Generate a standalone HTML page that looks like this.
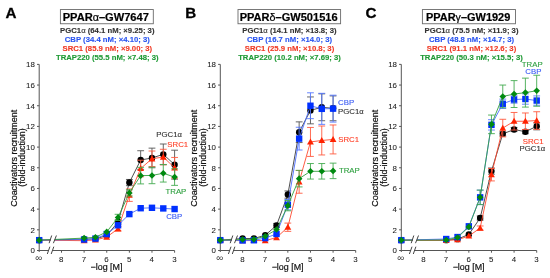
<!DOCTYPE html>
<html><head><meta charset="utf-8"><style>html,body{margin:0;padding:0;background:#fff;}svg{display:block;will-change:transform;}</style></head>
<body>
<svg width="550" height="278" viewBox="0 0 550 278" font-family='"Liberation Sans", sans-serif'>
<rect width="550" height="278" fill="#fff"/>
<text x="5.40" y="17.80" font-size="15.2" font-weight="bold" fill="#000" stroke="#000" stroke-width="0.3">A</text>
<rect x="60.40" y="9.55" width="92.90" height="14.2" fill="#fff" stroke="#6a6a6a" stroke-width="0.9"/>
<text x="62.70" y="20.9" font-size="10.8" font-weight="bold" textLength="86.20" lengthAdjust="spacingAndGlyphs" fill="#000" stroke="#000" stroke-width="0.2">PPAR<tspan font-weight="normal" font-size="10.5">α</tspan>–GW7647</text>
<text x="107.30" y="33.30" font-size="7.73" font-weight="bold" text-anchor="middle" fill="#333333" stroke="#333333" stroke-width="0.12">PGC1<tspan font-weight="normal">α</tspan> (64.1 nM; ×9.25; 3)</text>
<text x="107.30" y="42.05" font-size="7.73" font-weight="bold" text-anchor="middle" fill="#2a55f0" stroke="#2a55f0" stroke-width="0.12">CBP (34.4 nM; ×4.10; 3)</text>
<text x="107.30" y="50.80" font-size="7.73" font-weight="bold" text-anchor="middle" fill="#f03a25" stroke="#f03a25" stroke-width="0.12">SRC1 (85.9 nM; ×9.00; 3)</text>
<text x="107.30" y="59.55" font-size="7.73" font-weight="bold" text-anchor="middle" fill="#1f9a35" stroke="#1f9a35" stroke-width="0.12">TRAP220 (55.5 nM; ×7.48; 3)</text>
<line x1="39.20" y1="64.38" x2="39.20" y2="252.00" stroke="#555" stroke-width="1"/>
<line x1="37.00" y1="250.50" x2="39.20" y2="250.50" stroke="#555" stroke-width="1"/>
<text x="34.90" y="253.30" font-size="7.9" text-anchor="end" fill="#1a1a1a" stroke="#1a1a1a" stroke-width="0.06">0</text>
<line x1="37.00" y1="229.82" x2="39.20" y2="229.82" stroke="#555" stroke-width="1"/>
<text x="34.90" y="232.62" font-size="7.9" text-anchor="end" fill="#1a1a1a" stroke="#1a1a1a" stroke-width="0.06">2</text>
<line x1="37.00" y1="209.14" x2="39.20" y2="209.14" stroke="#555" stroke-width="1"/>
<text x="34.90" y="211.94" font-size="7.9" text-anchor="end" fill="#1a1a1a" stroke="#1a1a1a" stroke-width="0.06">4</text>
<line x1="37.00" y1="188.46" x2="39.20" y2="188.46" stroke="#555" stroke-width="1"/>
<text x="34.90" y="191.26" font-size="7.9" text-anchor="end" fill="#1a1a1a" stroke="#1a1a1a" stroke-width="0.06">6</text>
<line x1="37.00" y1="167.78" x2="39.20" y2="167.78" stroke="#555" stroke-width="1"/>
<text x="34.90" y="170.58" font-size="7.9" text-anchor="end" fill="#1a1a1a" stroke="#1a1a1a" stroke-width="0.06">8</text>
<line x1="37.00" y1="147.10" x2="39.20" y2="147.10" stroke="#555" stroke-width="1"/>
<text x="34.90" y="149.90" font-size="7.9" text-anchor="end" fill="#1a1a1a" stroke="#1a1a1a" stroke-width="0.06">10</text>
<line x1="37.00" y1="126.42" x2="39.20" y2="126.42" stroke="#555" stroke-width="1"/>
<text x="34.90" y="129.22" font-size="7.9" text-anchor="end" fill="#1a1a1a" stroke="#1a1a1a" stroke-width="0.06">12</text>
<line x1="37.00" y1="105.74" x2="39.20" y2="105.74" stroke="#555" stroke-width="1"/>
<text x="34.90" y="108.54" font-size="7.9" text-anchor="end" fill="#1a1a1a" stroke="#1a1a1a" stroke-width="0.06">14</text>
<line x1="37.00" y1="85.06" x2="39.20" y2="85.06" stroke="#555" stroke-width="1"/>
<text x="34.90" y="87.86" font-size="7.9" text-anchor="end" fill="#1a1a1a" stroke="#1a1a1a" stroke-width="0.06">16</text>
<line x1="37.00" y1="64.38" x2="39.20" y2="64.38" stroke="#555" stroke-width="1"/>
<text x="34.90" y="67.18" font-size="7.9" text-anchor="end" fill="#1a1a1a" stroke="#1a1a1a" stroke-width="0.06">18</text>
<line x1="39.20" y1="250.50" x2="48.60" y2="250.50" stroke="#555" stroke-width="1"/>
<line x1="52.50" y1="250.50" x2="174.60" y2="250.50" stroke="#555" stroke-width="1"/>
<line x1="47.30" y1="254" x2="49.90" y2="246.7" stroke="#444" stroke-width="1"/>
<line x1="51.20" y1="254" x2="53.80" y2="246.7" stroke="#444" stroke-width="1"/>
<line x1="61.50" y1="250.50" x2="61.50" y2="252.70" stroke="#555" stroke-width="1"/>
<text x="61.30" y="261.7" font-size="7.9" text-anchor="middle" fill="#1a1a1a" stroke="#1a1a1a" stroke-width="0.06">8</text>
<line x1="84.12" y1="250.50" x2="84.12" y2="252.70" stroke="#555" stroke-width="1"/>
<text x="83.92" y="261.7" font-size="7.9" text-anchor="middle" fill="#1a1a1a" stroke="#1a1a1a" stroke-width="0.06">7</text>
<line x1="106.74" y1="250.50" x2="106.74" y2="252.70" stroke="#555" stroke-width="1"/>
<text x="106.54" y="261.7" font-size="7.9" text-anchor="middle" fill="#1a1a1a" stroke="#1a1a1a" stroke-width="0.06">6</text>
<line x1="129.36" y1="250.50" x2="129.36" y2="252.70" stroke="#555" stroke-width="1"/>
<text x="129.16" y="261.7" font-size="7.9" text-anchor="middle" fill="#1a1a1a" stroke="#1a1a1a" stroke-width="0.06">5</text>
<line x1="151.98" y1="250.50" x2="151.98" y2="252.70" stroke="#555" stroke-width="1"/>
<text x="151.78" y="261.7" font-size="7.9" text-anchor="middle" fill="#1a1a1a" stroke="#1a1a1a" stroke-width="0.06">4</text>
<line x1="174.60" y1="250.50" x2="174.60" y2="252.70" stroke="#555" stroke-width="1"/>
<text x="174.40" y="261.7" font-size="7.9" text-anchor="middle" fill="#1a1a1a" stroke="#1a1a1a" stroke-width="0.06">3</text>
<text x="38.60" y="260.9" font-size="9.6" text-anchor="middle" fill="#333">∞</text>
<text x="106.50" y="270.4" font-size="8.9" text-anchor="middle" fill="#111" stroke="#111" stroke-width="0.2">−log [M]</text>
<text transform="translate(17.30,158.3) rotate(-90)" font-size="9.2" text-anchor="middle" textLength="97" lengthAdjust="spacingAndGlyphs" fill="#111" stroke="#111" stroke-width="0.22">Coactivators recruitment</text>
<text transform="translate(24.90,157.5) rotate(-90)" font-size="9.2" text-anchor="middle" textLength="58.4" lengthAdjust="spacingAndGlyphs" fill="#111" stroke="#111" stroke-width="0.22">(fold-induction)</text>
<path d="M118.05 220.00V224.13M114.65 220.00H121.45M114.65 224.13H121.45" stroke="#555555" stroke-width="0.9" fill="none"/>
<path d="M129.36 179.46V185.67M125.96 179.46H132.76M125.96 185.67H132.76" stroke="#555555" stroke-width="0.9" fill="none"/>
<path d="M140.67 150.72V169.33M137.27 150.72H144.07M137.27 169.33H144.07" stroke="#555555" stroke-width="0.9" fill="none"/>
<path d="M151.98 148.13V167.78M148.58 148.13H155.38M148.58 167.78H155.38" stroke="#555555" stroke-width="0.9" fill="none"/>
<path d="M163.29 144.00V164.68M159.89 144.00H166.69M159.89 164.68H166.69" stroke="#555555" stroke-width="0.9" fill="none"/>
<path d="M174.60 150.20V179.15M171.20 150.20H178.00M171.20 179.15H178.00" stroke="#555555" stroke-width="0.9" fill="none"/>
<path d="M39.20 240.16L50.60 239.90" stroke="#3a3a3a" stroke-width="0.9" fill="none"/>
<path d="M54.80 239.80L84.12 239.13L95.43 238.92L106.74 235.51L118.05 222.06L129.36 182.57L140.67 160.03L151.98 157.96L163.29 154.34L174.60 164.68" stroke="#3a3a3a" stroke-width="0.9" fill="none" stroke-linejoin="round"/>
<circle cx="39.20" cy="240.16" r="3.2" fill="#000000"/>
<circle cx="84.12" cy="239.13" r="3.2" fill="#000000"/>
<circle cx="95.43" cy="238.92" r="3.2" fill="#000000"/>
<circle cx="106.74" cy="235.51" r="3.2" fill="#000000"/>
<circle cx="118.05" cy="222.06" r="3.2" fill="#000000"/>
<circle cx="129.36" cy="182.57" r="3.2" fill="#000000"/>
<circle cx="140.67" cy="160.03" r="3.2" fill="#000000"/>
<circle cx="151.98" cy="157.96" r="3.2" fill="#000000"/>
<circle cx="163.29" cy="154.34" r="3.2" fill="#000000"/>
<circle cx="174.60" cy="164.68" r="3.2" fill="#000000"/>
<path d="M118.05 226.72V230.85M114.65 226.72H121.45M114.65 230.85H121.45" stroke="#ff5a40" stroke-width="0.9" fill="none"/>
<path d="M129.36 188.98V201.38M125.96 188.98H132.76M125.96 201.38H132.76" stroke="#ff5a40" stroke-width="0.9" fill="none"/>
<path d="M140.67 160.23V176.78M137.27 160.23H144.07M137.27 176.78H144.07" stroke="#ff5a40" stroke-width="0.9" fill="none"/>
<path d="M151.98 151.03V166.54M148.58 151.03H155.38M148.58 166.54H155.38" stroke="#ff5a40" stroke-width="0.9" fill="none"/>
<path d="M163.29 149.27V164.78M159.89 149.27H166.69M159.89 164.78H166.69" stroke="#ff5a40" stroke-width="0.9" fill="none"/>
<path d="M174.60 157.44V178.12M171.20 157.44H178.00M171.20 178.12H178.00" stroke="#ff5a40" stroke-width="0.9" fill="none"/>
<path d="M39.20 240.16L50.60 240.29" stroke="#ff4a30" stroke-width="0.9" fill="none"/>
<path d="M54.80 240.34L84.12 240.68L95.43 239.95L106.74 237.06L118.05 228.79L129.36 195.18L140.67 168.50L151.98 158.78L163.29 157.03L174.60 167.78" stroke="#ff4a30" stroke-width="0.9" fill="none" stroke-linejoin="round"/>
<path d="M39.20 236.76L42.60 242.76L35.80 242.76Z" fill="#ff2200"/>
<path d="M84.12 237.28L87.52 243.28L80.72 243.28Z" fill="#ff2200"/>
<path d="M95.43 236.55L98.83 242.55L92.03 242.55Z" fill="#ff2200"/>
<path d="M106.74 233.66L110.14 239.66L103.34 239.66Z" fill="#ff2200"/>
<path d="M118.05 225.39L121.45 231.39L114.65 231.39Z" fill="#ff2200"/>
<path d="M129.36 191.78L132.76 197.78L125.96 197.78Z" fill="#ff2200"/>
<path d="M140.67 165.10L144.07 171.10L137.27 171.10Z" fill="#ff2200"/>
<path d="M151.98 155.38L155.38 161.38L148.58 161.38Z" fill="#ff2200"/>
<path d="M163.29 153.63L166.69 159.63L159.89 159.63Z" fill="#ff2200"/>
<path d="M174.60 164.38L178.00 170.38L171.20 170.38Z" fill="#ff2200"/>
<path d="M39.20 240.16L50.60 240.00" stroke="#4a6cff" stroke-width="0.9" fill="none"/>
<path d="M54.80 239.94L84.12 239.54L95.43 238.61L106.74 234.06L118.05 225.27L129.36 214.10L140.67 208.21L151.98 207.80L163.29 208.42L174.60 209.04" stroke="#4a6cff" stroke-width="0.9" fill="none" stroke-linejoin="round"/>
<rect x="36.00" y="236.96" width="6.40" height="6.40" fill="#0030ff"/>
<rect x="80.92" y="236.34" width="6.40" height="6.40" fill="#0030ff"/>
<rect x="92.23" y="235.41" width="6.40" height="6.40" fill="#0030ff"/>
<rect x="103.54" y="230.86" width="6.40" height="6.40" fill="#0030ff"/>
<rect x="114.85" y="222.07" width="6.40" height="6.40" fill="#0030ff"/>
<rect x="126.16" y="210.90" width="6.40" height="6.40" fill="#0030ff"/>
<rect x="137.47" y="205.01" width="6.40" height="6.40" fill="#0030ff"/>
<rect x="148.78" y="204.60" width="6.40" height="6.40" fill="#0030ff"/>
<rect x="160.09" y="205.22" width="6.40" height="6.40" fill="#0030ff"/>
<rect x="171.40" y="205.84" width="6.40" height="6.40" fill="#0030ff"/>
<path d="M118.05 214.31V220.51M114.65 214.31H121.45M114.65 220.51H121.45" stroke="#44aa50" stroke-width="0.9" fill="none"/>
<path d="M129.36 189.80V196.01M125.96 189.80H132.76M125.96 196.01H132.76" stroke="#44aa50" stroke-width="0.9" fill="none"/>
<path d="M140.67 167.37V183.91M137.27 167.37H144.07M137.27 183.91H144.07" stroke="#44aa50" stroke-width="0.9" fill="none"/>
<path d="M151.98 167.16V183.70M148.58 167.16H155.38M148.58 183.70H155.38" stroke="#44aa50" stroke-width="0.9" fill="none"/>
<path d="M163.29 164.47V182.05M159.89 164.47H166.69M159.89 182.05H166.69" stroke="#44aa50" stroke-width="0.9" fill="none"/>
<path d="M174.60 168.81V185.36M171.20 168.81H178.00M171.20 185.36H178.00" stroke="#44aa50" stroke-width="0.9" fill="none"/>
<path d="M39.20 240.16L50.60 239.64" stroke="#33a040" stroke-width="0.9" fill="none"/>
<path d="M54.80 239.44L84.12 238.09L95.43 237.26L106.74 231.89L118.05 217.41L129.36 192.91L140.67 175.64L151.98 175.43L163.29 173.26L174.60 177.09" stroke="#33a040" stroke-width="0.9" fill="none" stroke-linejoin="round"/>
<path d="M39.20 236.86L42.50 240.16L39.20 243.46L35.90 240.16Z" fill="#008a10"/>
<path d="M84.12 234.79L87.42 238.09L84.12 241.39L80.82 238.09Z" fill="#008a10"/>
<path d="M95.43 233.96L98.73 237.26L95.43 240.56L92.13 237.26Z" fill="#008a10"/>
<path d="M106.74 228.59L110.04 231.89L106.74 235.19L103.44 231.89Z" fill="#008a10"/>
<path d="M118.05 214.11L121.35 217.41L118.05 220.71L114.75 217.41Z" fill="#008a10"/>
<path d="M129.36 189.61L132.66 192.91L129.36 196.21L126.06 192.91Z" fill="#008a10"/>
<path d="M140.67 172.34L143.97 175.64L140.67 178.94L137.37 175.64Z" fill="#008a10"/>
<path d="M151.98 172.13L155.28 175.43L151.98 178.73L148.68 175.43Z" fill="#008a10"/>
<path d="M163.29 169.96L166.59 173.26L163.29 176.56L159.99 173.26Z" fill="#008a10"/>
<path d="M174.60 173.79L177.90 177.09L174.60 180.39L171.30 177.09Z" fill="#008a10"/>
<line x1="49.10" y1="243.2" x2="51.70" y2="235.5" stroke="#444" stroke-width="1"/>
<line x1="53.40" y1="243.2" x2="56.40" y2="235.5" stroke="#444" stroke-width="1"/>
<text x="156.30" y="137.30" font-size="7.8" fill="#333333" stroke="#333333" stroke-width="0.12">PGC1<tspan font-size="7.6">α</tspan></text>
<text x="167.30" y="146.50" font-size="7.8" fill="#ff4028" stroke="#ff4028" stroke-width="0.12">SRC1</text>
<text x="165.50" y="193.60" font-size="7.8" fill="#2fa040" stroke="#2fa040" stroke-width="0.12">TRAP</text>
<text x="166.20" y="219.20" font-size="7.8" fill="#3a5cf5" stroke="#3a5cf5" stroke-width="0.12">CBP</text>
<text x="185.20" y="17.80" font-size="15.2" font-weight="bold" fill="#000" stroke="#000" stroke-width="0.3">B</text>
<rect x="238.00" y="9.55" width="102.60" height="14.2" fill="#fff" stroke="#6a6a6a" stroke-width="0.9"/>
<text x="239.70" y="20.9" font-size="10.8" font-weight="bold" textLength="97.90" lengthAdjust="spacingAndGlyphs" fill="#000" stroke="#000" stroke-width="0.2">PPAR<tspan font-weight="normal" font-size="10.5">δ</tspan>–GW501516</text>
<text x="289.50" y="33.30" font-size="7.73" font-weight="bold" text-anchor="middle" fill="#333333" stroke="#333333" stroke-width="0.12">PGC1<tspan font-weight="normal">α</tspan> (14.1 nM; ×13.8; 3)</text>
<text x="289.50" y="42.05" font-size="7.73" font-weight="bold" text-anchor="middle" fill="#2a55f0" stroke="#2a55f0" stroke-width="0.12">CBP (16.7 nM; ×14.0; 3)</text>
<text x="289.50" y="50.80" font-size="7.73" font-weight="bold" text-anchor="middle" fill="#f03a25" stroke="#f03a25" stroke-width="0.12">SRC1 (25.9 nM; ×10.8; 3)</text>
<text x="289.50" y="59.55" font-size="7.73" font-weight="bold" text-anchor="middle" fill="#1f9a35" stroke="#1f9a35" stroke-width="0.12">TRAP220 (10.2 nM; ×7.69; 3)</text>
<line x1="220.30" y1="64.38" x2="220.30" y2="252.00" stroke="#555" stroke-width="1"/>
<line x1="218.10" y1="250.50" x2="220.30" y2="250.50" stroke="#555" stroke-width="1"/>
<text x="216.00" y="253.30" font-size="7.9" text-anchor="end" fill="#1a1a1a" stroke="#1a1a1a" stroke-width="0.06">0</text>
<line x1="218.10" y1="229.82" x2="220.30" y2="229.82" stroke="#555" stroke-width="1"/>
<text x="216.00" y="232.62" font-size="7.9" text-anchor="end" fill="#1a1a1a" stroke="#1a1a1a" stroke-width="0.06">2</text>
<line x1="218.10" y1="209.14" x2="220.30" y2="209.14" stroke="#555" stroke-width="1"/>
<text x="216.00" y="211.94" font-size="7.9" text-anchor="end" fill="#1a1a1a" stroke="#1a1a1a" stroke-width="0.06">4</text>
<line x1="218.10" y1="188.46" x2="220.30" y2="188.46" stroke="#555" stroke-width="1"/>
<text x="216.00" y="191.26" font-size="7.9" text-anchor="end" fill="#1a1a1a" stroke="#1a1a1a" stroke-width="0.06">6</text>
<line x1="218.10" y1="167.78" x2="220.30" y2="167.78" stroke="#555" stroke-width="1"/>
<text x="216.00" y="170.58" font-size="7.9" text-anchor="end" fill="#1a1a1a" stroke="#1a1a1a" stroke-width="0.06">8</text>
<line x1="218.10" y1="147.10" x2="220.30" y2="147.10" stroke="#555" stroke-width="1"/>
<text x="216.00" y="149.90" font-size="7.9" text-anchor="end" fill="#1a1a1a" stroke="#1a1a1a" stroke-width="0.06">10</text>
<line x1="218.10" y1="126.42" x2="220.30" y2="126.42" stroke="#555" stroke-width="1"/>
<text x="216.00" y="129.22" font-size="7.9" text-anchor="end" fill="#1a1a1a" stroke="#1a1a1a" stroke-width="0.06">12</text>
<line x1="218.10" y1="105.74" x2="220.30" y2="105.74" stroke="#555" stroke-width="1"/>
<text x="216.00" y="108.54" font-size="7.9" text-anchor="end" fill="#1a1a1a" stroke="#1a1a1a" stroke-width="0.06">14</text>
<line x1="218.10" y1="85.06" x2="220.30" y2="85.06" stroke="#555" stroke-width="1"/>
<text x="216.00" y="87.86" font-size="7.9" text-anchor="end" fill="#1a1a1a" stroke="#1a1a1a" stroke-width="0.06">16</text>
<line x1="218.10" y1="64.38" x2="220.30" y2="64.38" stroke="#555" stroke-width="1"/>
<text x="216.00" y="67.18" font-size="7.9" text-anchor="end" fill="#1a1a1a" stroke="#1a1a1a" stroke-width="0.06">18</text>
<line x1="220.30" y1="250.50" x2="229.70" y2="250.50" stroke="#555" stroke-width="1"/>
<line x1="233.60" y1="250.50" x2="355.70" y2="250.50" stroke="#555" stroke-width="1"/>
<line x1="228.40" y1="254" x2="231.00" y2="246.7" stroke="#444" stroke-width="1"/>
<line x1="232.30" y1="254" x2="234.90" y2="246.7" stroke="#444" stroke-width="1"/>
<line x1="242.60" y1="250.50" x2="242.60" y2="252.70" stroke="#555" stroke-width="1"/>
<text x="242.40" y="261.7" font-size="7.9" text-anchor="middle" fill="#1a1a1a" stroke="#1a1a1a" stroke-width="0.06">8</text>
<line x1="265.22" y1="250.50" x2="265.22" y2="252.70" stroke="#555" stroke-width="1"/>
<text x="265.02" y="261.7" font-size="7.9" text-anchor="middle" fill="#1a1a1a" stroke="#1a1a1a" stroke-width="0.06">7</text>
<line x1="287.84" y1="250.50" x2="287.84" y2="252.70" stroke="#555" stroke-width="1"/>
<text x="287.64" y="261.7" font-size="7.9" text-anchor="middle" fill="#1a1a1a" stroke="#1a1a1a" stroke-width="0.06">6</text>
<line x1="310.46" y1="250.50" x2="310.46" y2="252.70" stroke="#555" stroke-width="1"/>
<text x="310.26" y="261.7" font-size="7.9" text-anchor="middle" fill="#1a1a1a" stroke="#1a1a1a" stroke-width="0.06">5</text>
<line x1="333.08" y1="250.50" x2="333.08" y2="252.70" stroke="#555" stroke-width="1"/>
<text x="332.88" y="261.7" font-size="7.9" text-anchor="middle" fill="#1a1a1a" stroke="#1a1a1a" stroke-width="0.06">4</text>
<line x1="355.70" y1="250.50" x2="355.70" y2="252.70" stroke="#555" stroke-width="1"/>
<text x="355.50" y="261.7" font-size="7.9" text-anchor="middle" fill="#1a1a1a" stroke="#1a1a1a" stroke-width="0.06">3</text>
<text x="219.70" y="260.9" font-size="9.6" text-anchor="middle" fill="#333">∞</text>
<text x="287.60" y="270.4" font-size="8.9" text-anchor="middle" fill="#111" stroke="#111" stroke-width="0.2">−log [M]</text>
<text transform="translate(197.20,158.3) rotate(-90)" font-size="9.2" text-anchor="middle" textLength="97" lengthAdjust="spacingAndGlyphs" fill="#111" stroke="#111" stroke-width="0.22">Coactivators recruitment</text>
<text transform="translate(205.80,157.5) rotate(-90)" font-size="9.2" text-anchor="middle" textLength="58.4" lengthAdjust="spacingAndGlyphs" fill="#111" stroke="#111" stroke-width="0.22">(fold-induction)</text>
<path d="M276.53 223.41V227.55M273.13 223.41H279.93M273.13 227.55H279.93" stroke="#555555" stroke-width="0.9" fill="none"/>
<path d="M287.84 190.94V198.18M284.44 190.94H291.24M284.44 198.18H291.24" stroke="#555555" stroke-width="0.9" fill="none"/>
<path d="M299.15 121.87V142.55M295.75 121.87H302.55M295.75 142.55H302.55" stroke="#555555" stroke-width="0.9" fill="none"/>
<path d="M310.46 96.95V123.84M307.06 96.95H313.86M307.06 123.84H313.86" stroke="#555555" stroke-width="0.9" fill="none"/>
<path d="M321.77 93.85V120.73M318.37 93.85H325.17M318.37 120.73H325.17" stroke="#555555" stroke-width="0.9" fill="none"/>
<path d="M333.08 95.92V120.73M329.68 95.92H336.48M329.68 120.73H336.48" stroke="#555555" stroke-width="0.9" fill="none"/>
<path d="M220.30 240.16L231.70 239.31" stroke="#3a3a3a" stroke-width="0.9" fill="none"/>
<path d="M235.90 239.00L242.60 238.51L253.91 238.51L265.22 235.20L276.53 225.48L287.84 194.56L299.15 132.21L310.46 110.39L321.77 107.29L333.08 108.32" stroke="#3a3a3a" stroke-width="0.9" fill="none" stroke-linejoin="round"/>
<circle cx="220.30" cy="240.16" r="3.2" fill="#000000"/>
<circle cx="242.60" cy="238.51" r="3.2" fill="#000000"/>
<circle cx="253.91" cy="238.51" r="3.2" fill="#000000"/>
<circle cx="265.22" cy="235.20" r="3.2" fill="#000000"/>
<circle cx="276.53" cy="225.48" r="3.2" fill="#000000"/>
<circle cx="287.84" cy="194.56" r="3.2" fill="#000000"/>
<circle cx="299.15" cy="132.21" r="3.2" fill="#000000"/>
<circle cx="310.46" cy="110.39" r="3.2" fill="#000000"/>
<circle cx="321.77" cy="107.29" r="3.2" fill="#000000"/>
<circle cx="333.08" cy="108.32" r="3.2" fill="#000000"/>
<path d="M287.84 223.10V231.37M284.44 223.10H291.24M284.44 231.37H291.24" stroke="#ff5a40" stroke-width="0.9" fill="none"/>
<path d="M299.15 170.47V193.22M295.75 170.47H302.55M295.75 193.22H302.55" stroke="#ff5a40" stroke-width="0.9" fill="none"/>
<path d="M310.46 127.45V156.41M307.06 127.45H313.86M307.06 156.41H313.86" stroke="#ff5a40" stroke-width="0.9" fill="none"/>
<path d="M321.77 126.01V154.96M318.37 126.01H325.17M318.37 154.96H325.17" stroke="#ff5a40" stroke-width="0.9" fill="none"/>
<path d="M333.08 124.97V153.92M329.68 124.97H336.48M329.68 153.92H336.48" stroke="#ff5a40" stroke-width="0.9" fill="none"/>
<path d="M220.30 240.16L231.70 240.42" stroke="#ff4a30" stroke-width="0.9" fill="none"/>
<path d="M235.90 240.52L242.60 240.68L253.91 240.47L265.22 240.68L276.53 237.57L287.84 227.24L299.15 181.84L310.46 141.93L321.77 140.48L333.08 139.45" stroke="#ff4a30" stroke-width="0.9" fill="none" stroke-linejoin="round"/>
<path d="M220.30 236.76L223.70 242.76L216.90 242.76Z" fill="#ff2200"/>
<path d="M242.60 237.28L246.00 243.28L239.20 243.28Z" fill="#ff2200"/>
<path d="M253.91 237.07L257.31 243.07L250.51 243.07Z" fill="#ff2200"/>
<path d="M265.22 237.28L268.62 243.28L261.82 243.28Z" fill="#ff2200"/>
<path d="M276.53 234.17L279.93 240.17L273.13 240.17Z" fill="#ff2200"/>
<path d="M287.84 223.84L291.24 229.84L284.44 229.84Z" fill="#ff2200"/>
<path d="M299.15 178.44L302.55 184.44L295.75 184.44Z" fill="#ff2200"/>
<path d="M310.46 138.53L313.86 144.53L307.06 144.53Z" fill="#ff2200"/>
<path d="M321.77 137.08L325.17 143.08L318.37 143.08Z" fill="#ff2200"/>
<path d="M333.08 136.05L336.48 142.05L329.68 142.05Z" fill="#ff2200"/>
<path d="M287.84 199.52V209.86M284.44 199.52H291.24M284.44 209.86H291.24" stroke="#5577ff" stroke-width="0.9" fill="none"/>
<path d="M299.15 127.25V150.00M295.75 127.25H302.55M295.75 150.00H302.55" stroke="#5577ff" stroke-width="0.9" fill="none"/>
<path d="M310.46 92.81V118.66M307.06 92.81H313.86M307.06 118.66H313.86" stroke="#5577ff" stroke-width="0.9" fill="none"/>
<path d="M321.77 93.33V124.35M318.37 93.33H325.17M318.37 124.35H325.17" stroke="#5577ff" stroke-width="0.9" fill="none"/>
<path d="M333.08 95.19V122.08M329.68 95.19H336.48M329.68 122.08H336.48" stroke="#5577ff" stroke-width="0.9" fill="none"/>
<path d="M220.30 240.16L231.70 240.32" stroke="#4a6cff" stroke-width="0.9" fill="none"/>
<path d="M235.90 240.38L242.60 240.47L253.91 240.26L265.22 238.09L276.53 233.96L287.84 204.69L299.15 138.62L310.46 105.74L321.77 108.84L333.08 108.64" stroke="#4a6cff" stroke-width="0.9" fill="none" stroke-linejoin="round"/>
<rect x="217.10" y="236.96" width="6.40" height="6.40" fill="#0030ff"/>
<rect x="239.40" y="237.27" width="6.40" height="6.40" fill="#0030ff"/>
<rect x="250.71" y="237.06" width="6.40" height="6.40" fill="#0030ff"/>
<rect x="262.02" y="234.89" width="6.40" height="6.40" fill="#0030ff"/>
<rect x="273.33" y="230.76" width="6.40" height="6.40" fill="#0030ff"/>
<rect x="284.64" y="201.49" width="6.40" height="6.40" fill="#0030ff"/>
<rect x="295.95" y="135.42" width="6.40" height="6.40" fill="#0030ff"/>
<rect x="307.26" y="102.54" width="6.40" height="6.40" fill="#0030ff"/>
<rect x="318.57" y="105.64" width="6.40" height="6.40" fill="#0030ff"/>
<rect x="329.88" y="105.44" width="6.40" height="6.40" fill="#0030ff"/>
<path d="M287.84 200.45V210.79M284.44 200.45H291.24M284.44 210.79H291.24" stroke="#44aa50" stroke-width="0.9" fill="none"/>
<path d="M299.15 170.37V186.91M295.75 170.37H302.55M295.75 186.91H302.55" stroke="#44aa50" stroke-width="0.9" fill="none"/>
<path d="M310.46 163.54V179.05M307.06 163.54H313.86M307.06 179.05H313.86" stroke="#44aa50" stroke-width="0.9" fill="none"/>
<path d="M321.77 163.54V179.05M318.37 163.54H325.17M318.37 179.05H325.17" stroke="#44aa50" stroke-width="0.9" fill="none"/>
<path d="M333.08 163.13V178.64M329.68 163.13H336.48M329.68 178.64H336.48" stroke="#44aa50" stroke-width="0.9" fill="none"/>
<path d="M220.30 240.16L231.70 239.84" stroke="#33a040" stroke-width="0.9" fill="none"/>
<path d="M235.90 239.73L242.60 239.54L253.91 239.33L265.22 236.23L276.53 229.51L287.84 205.62L299.15 178.64L310.46 171.30L321.77 171.30L333.08 170.88" stroke="#33a040" stroke-width="0.9" fill="none" stroke-linejoin="round"/>
<path d="M220.30 236.86L223.60 240.16L220.30 243.46L217.00 240.16Z" fill="#008a10"/>
<path d="M242.60 236.24L245.90 239.54L242.60 242.84L239.30 239.54Z" fill="#008a10"/>
<path d="M253.91 236.03L257.21 239.33L253.91 242.63L250.61 239.33Z" fill="#008a10"/>
<path d="M265.22 232.93L268.52 236.23L265.22 239.53L261.92 236.23Z" fill="#008a10"/>
<path d="M276.53 226.21L279.83 229.51L276.53 232.81L273.23 229.51Z" fill="#008a10"/>
<path d="M287.84 202.32L291.14 205.62L287.84 208.92L284.54 205.62Z" fill="#008a10"/>
<path d="M299.15 175.34L302.45 178.64L299.15 181.94L295.85 178.64Z" fill="#008a10"/>
<path d="M310.46 168.00L313.76 171.30L310.46 174.60L307.16 171.30Z" fill="#008a10"/>
<path d="M321.77 168.00L325.07 171.30L321.77 174.60L318.47 171.30Z" fill="#008a10"/>
<path d="M333.08 167.58L336.38 170.88L333.08 174.18L329.78 170.88Z" fill="#008a10"/>
<line x1="230.20" y1="243.2" x2="232.80" y2="235.5" stroke="#444" stroke-width="1"/>
<line x1="234.50" y1="243.2" x2="237.50" y2="235.5" stroke="#444" stroke-width="1"/>
<text x="338.10" y="105.00" font-size="7.8" fill="#3a5cf5" stroke="#3a5cf5" stroke-width="0.12">CBP</text>
<text x="338.10" y="113.70" font-size="7.8" fill="#333333" stroke="#333333" stroke-width="0.12">PGC1<tspan font-size="7.6">α</tspan></text>
<text x="338.20" y="141.80" font-size="7.8" fill="#ff4028" stroke="#ff4028" stroke-width="0.12">SRC1</text>
<text x="338.90" y="173.20" font-size="7.8" fill="#2fa040" stroke="#2fa040" stroke-width="0.12">TRAP</text>
<text x="365.60" y="17.90" font-size="15.2" font-weight="bold" fill="#000" stroke="#000" stroke-width="0.3">C</text>
<rect x="422.40" y="9.55" width="93.10" height="14.2" fill="#fff" stroke="#6a6a6a" stroke-width="0.9"/>
<text x="425.90" y="20.9" font-size="10.8" font-weight="bold" textLength="84.40" lengthAdjust="spacingAndGlyphs" fill="#000" stroke="#000" stroke-width="0.2">PPAR<tspan font-weight="normal" font-size="10.5">γ</tspan>–GW1929</text>
<text x="471.50" y="33.30" font-size="7.73" font-weight="bold" text-anchor="middle" fill="#333333" stroke="#333333" stroke-width="0.12">PGC1<tspan font-weight="normal">α</tspan> (75.5 nM; ×11.9; 3)</text>
<text x="471.50" y="42.05" font-size="7.73" font-weight="bold" text-anchor="middle" fill="#2a55f0" stroke="#2a55f0" stroke-width="0.12">CBP (48.8 nM; ×14.7; 3)</text>
<text x="471.50" y="50.80" font-size="7.73" font-weight="bold" text-anchor="middle" fill="#f03a25" stroke="#f03a25" stroke-width="0.12">SRC1 (91.1 nM; ×12.6; 3)</text>
<text x="471.50" y="59.55" font-size="7.73" font-weight="bold" text-anchor="middle" fill="#1f9a35" stroke="#1f9a35" stroke-width="0.12">TRAP220 (50.3 nM; ×15.5; 3)</text>
<line x1="401.30" y1="64.38" x2="401.30" y2="252.00" stroke="#555" stroke-width="1"/>
<line x1="399.10" y1="250.50" x2="401.30" y2="250.50" stroke="#555" stroke-width="1"/>
<text x="397.00" y="253.30" font-size="7.9" text-anchor="end" fill="#1a1a1a" stroke="#1a1a1a" stroke-width="0.06">0</text>
<line x1="399.10" y1="229.82" x2="401.30" y2="229.82" stroke="#555" stroke-width="1"/>
<text x="397.00" y="232.62" font-size="7.9" text-anchor="end" fill="#1a1a1a" stroke="#1a1a1a" stroke-width="0.06">2</text>
<line x1="399.10" y1="209.14" x2="401.30" y2="209.14" stroke="#555" stroke-width="1"/>
<text x="397.00" y="211.94" font-size="7.9" text-anchor="end" fill="#1a1a1a" stroke="#1a1a1a" stroke-width="0.06">4</text>
<line x1="399.10" y1="188.46" x2="401.30" y2="188.46" stroke="#555" stroke-width="1"/>
<text x="397.00" y="191.26" font-size="7.9" text-anchor="end" fill="#1a1a1a" stroke="#1a1a1a" stroke-width="0.06">6</text>
<line x1="399.10" y1="167.78" x2="401.30" y2="167.78" stroke="#555" stroke-width="1"/>
<text x="397.00" y="170.58" font-size="7.9" text-anchor="end" fill="#1a1a1a" stroke="#1a1a1a" stroke-width="0.06">8</text>
<line x1="399.10" y1="147.10" x2="401.30" y2="147.10" stroke="#555" stroke-width="1"/>
<text x="397.00" y="149.90" font-size="7.9" text-anchor="end" fill="#1a1a1a" stroke="#1a1a1a" stroke-width="0.06">10</text>
<line x1="399.10" y1="126.42" x2="401.30" y2="126.42" stroke="#555" stroke-width="1"/>
<text x="397.00" y="129.22" font-size="7.9" text-anchor="end" fill="#1a1a1a" stroke="#1a1a1a" stroke-width="0.06">12</text>
<line x1="399.10" y1="105.74" x2="401.30" y2="105.74" stroke="#555" stroke-width="1"/>
<text x="397.00" y="108.54" font-size="7.9" text-anchor="end" fill="#1a1a1a" stroke="#1a1a1a" stroke-width="0.06">14</text>
<line x1="399.10" y1="85.06" x2="401.30" y2="85.06" stroke="#555" stroke-width="1"/>
<text x="397.00" y="87.86" font-size="7.9" text-anchor="end" fill="#1a1a1a" stroke="#1a1a1a" stroke-width="0.06">16</text>
<line x1="399.10" y1="64.38" x2="401.30" y2="64.38" stroke="#555" stroke-width="1"/>
<text x="397.00" y="67.18" font-size="7.9" text-anchor="end" fill="#1a1a1a" stroke="#1a1a1a" stroke-width="0.06">18</text>
<line x1="401.30" y1="250.50" x2="410.70" y2="250.50" stroke="#555" stroke-width="1"/>
<line x1="414.60" y1="250.50" x2="536.70" y2="250.50" stroke="#555" stroke-width="1"/>
<line x1="409.40" y1="254" x2="412.00" y2="246.7" stroke="#444" stroke-width="1"/>
<line x1="413.30" y1="254" x2="415.90" y2="246.7" stroke="#444" stroke-width="1"/>
<line x1="423.60" y1="250.50" x2="423.60" y2="252.70" stroke="#555" stroke-width="1"/>
<text x="423.40" y="261.7" font-size="7.9" text-anchor="middle" fill="#1a1a1a" stroke="#1a1a1a" stroke-width="0.06">8</text>
<line x1="446.22" y1="250.50" x2="446.22" y2="252.70" stroke="#555" stroke-width="1"/>
<text x="446.02" y="261.7" font-size="7.9" text-anchor="middle" fill="#1a1a1a" stroke="#1a1a1a" stroke-width="0.06">7</text>
<line x1="468.84" y1="250.50" x2="468.84" y2="252.70" stroke="#555" stroke-width="1"/>
<text x="468.64" y="261.7" font-size="7.9" text-anchor="middle" fill="#1a1a1a" stroke="#1a1a1a" stroke-width="0.06">6</text>
<line x1="491.46" y1="250.50" x2="491.46" y2="252.70" stroke="#555" stroke-width="1"/>
<text x="491.26" y="261.7" font-size="7.9" text-anchor="middle" fill="#1a1a1a" stroke="#1a1a1a" stroke-width="0.06">5</text>
<line x1="514.08" y1="250.50" x2="514.08" y2="252.70" stroke="#555" stroke-width="1"/>
<text x="513.88" y="261.7" font-size="7.9" text-anchor="middle" fill="#1a1a1a" stroke="#1a1a1a" stroke-width="0.06">4</text>
<line x1="536.70" y1="250.50" x2="536.70" y2="252.70" stroke="#555" stroke-width="1"/>
<text x="536.50" y="261.7" font-size="7.9" text-anchor="middle" fill="#1a1a1a" stroke="#1a1a1a" stroke-width="0.06">3</text>
<text x="400.70" y="260.9" font-size="9.6" text-anchor="middle" fill="#333">∞</text>
<text x="468.60" y="270.4" font-size="8.9" text-anchor="middle" fill="#111" stroke="#111" stroke-width="0.2">−log [M]</text>
<text transform="translate(378.20,158.3) rotate(-90)" font-size="9.2" text-anchor="middle" textLength="97" lengthAdjust="spacingAndGlyphs" fill="#111" stroke="#111" stroke-width="0.22">Coactivators recruitment</text>
<text transform="translate(386.70,157.5) rotate(-90)" font-size="9.2" text-anchor="middle" textLength="58.4" lengthAdjust="spacingAndGlyphs" fill="#111" stroke="#111" stroke-width="0.22">(fold-induction)</text>
<path d="M480.15 215.96V220.10M476.75 215.96H483.55M476.75 220.10H483.55" stroke="#555555" stroke-width="0.9" fill="none"/>
<path d="M491.46 167.99V174.19M488.06 167.99H494.86M488.06 174.19H494.86" stroke="#555555" stroke-width="0.9" fill="none"/>
<path d="M502.77 131.80V135.93M499.37 131.80H506.17M499.37 135.93H506.17" stroke="#555555" stroke-width="0.9" fill="none"/>
<path d="M514.08 127.45V131.59M510.68 127.45H517.48M510.68 131.59H517.48" stroke="#555555" stroke-width="0.9" fill="none"/>
<path d="M525.39 129.63V133.76M521.99 129.63H528.79M521.99 133.76H528.79" stroke="#555555" stroke-width="0.9" fill="none"/>
<path d="M536.70 122.80V129.83M533.30 122.80H540.10M533.30 129.83H540.10" stroke="#555555" stroke-width="0.9" fill="none"/>
<path d="M401.30 240.16L412.70 240.16" stroke="#3a3a3a" stroke-width="0.9" fill="none"/>
<path d="M416.90 240.16L446.22 240.16L457.53 239.13L468.84 234.47L480.15 218.03L491.46 171.09L502.77 133.86L514.08 129.52L525.39 131.69L536.70 126.32" stroke="#3a3a3a" stroke-width="0.9" fill="none" stroke-linejoin="round"/>
<circle cx="401.30" cy="240.16" r="3.2" fill="#000000"/>
<circle cx="446.22" cy="240.16" r="3.2" fill="#000000"/>
<circle cx="457.53" cy="239.13" r="3.2" fill="#000000"/>
<circle cx="468.84" cy="234.47" r="3.2" fill="#000000"/>
<circle cx="480.15" cy="218.03" r="3.2" fill="#000000"/>
<circle cx="491.46" cy="171.09" r="3.2" fill="#000000"/>
<circle cx="502.77" cy="133.86" r="3.2" fill="#000000"/>
<circle cx="514.08" cy="129.52" r="3.2" fill="#000000"/>
<circle cx="525.39" cy="131.69" r="3.2" fill="#000000"/>
<circle cx="536.70" cy="126.32" r="3.2" fill="#000000"/>
<path d="M480.15 225.99V230.13M476.75 225.99H483.55M476.75 230.13H483.55" stroke="#ff5a40" stroke-width="0.9" fill="none"/>
<path d="M491.46 168.50V180.91M488.06 168.50H494.86M488.06 180.91H494.86" stroke="#ff5a40" stroke-width="0.9" fill="none"/>
<path d="M502.77 119.29V136.86M499.37 119.29H506.17M499.37 136.86H506.17" stroke="#ff5a40" stroke-width="0.9" fill="none"/>
<path d="M514.08 112.46V130.04M510.68 112.46H517.48M510.68 130.04H517.48" stroke="#ff5a40" stroke-width="0.9" fill="none"/>
<path d="M525.39 112.98V129.52M521.99 112.98H528.79M521.99 129.52H528.79" stroke="#ff5a40" stroke-width="0.9" fill="none"/>
<path d="M536.70 111.74V129.32M533.30 111.74H540.10M533.30 129.32H540.10" stroke="#ff5a40" stroke-width="0.9" fill="none"/>
<path d="M401.30 240.16L412.70 240.21" stroke="#ff4a30" stroke-width="0.9" fill="none"/>
<path d="M416.90 240.23L446.22 240.37L457.53 239.75L468.84 236.02L480.15 228.06L491.46 174.71L502.77 128.07L514.08 121.25L525.39 121.25L536.70 120.53" stroke="#ff4a30" stroke-width="0.9" fill="none" stroke-linejoin="round"/>
<path d="M401.30 236.76L404.70 242.76L397.90 242.76Z" fill="#ff2200"/>
<path d="M446.22 236.97L449.62 242.97L442.82 242.97Z" fill="#ff2200"/>
<path d="M457.53 236.35L460.93 242.35L454.13 242.35Z" fill="#ff2200"/>
<path d="M468.84 232.62L472.24 238.62L465.44 238.62Z" fill="#ff2200"/>
<path d="M480.15 224.66L483.55 230.66L476.75 230.66Z" fill="#ff2200"/>
<path d="M491.46 171.31L494.86 177.31L488.06 177.31Z" fill="#ff2200"/>
<path d="M502.77 124.67L506.17 130.67L499.37 130.67Z" fill="#ff2200"/>
<path d="M514.08 117.85L517.48 123.85L510.68 123.85Z" fill="#ff2200"/>
<path d="M525.39 117.85L528.79 123.85L521.99 123.85Z" fill="#ff2200"/>
<path d="M536.70 117.13L540.10 123.13L533.30 123.13Z" fill="#ff2200"/>
<path d="M480.15 190.11V204.59M476.75 190.11H483.55M476.75 204.59H483.55" stroke="#5577ff" stroke-width="0.9" fill="none"/>
<path d="M491.46 119.70V130.04M488.06 119.70H494.86M488.06 130.04H494.86" stroke="#5577ff" stroke-width="0.9" fill="none"/>
<path d="M502.77 99.12V108.43M499.37 99.12H506.17M499.37 108.43H506.17" stroke="#5577ff" stroke-width="0.9" fill="none"/>
<path d="M514.08 95.92V103.16M510.68 95.92H517.48M510.68 103.16H517.48" stroke="#5577ff" stroke-width="0.9" fill="none"/>
<path d="M525.39 93.85V104.19M521.99 93.85H528.79M521.99 104.19H528.79" stroke="#5577ff" stroke-width="0.9" fill="none"/>
<path d="M536.70 95.92V105.22M533.30 95.92H540.10M533.30 105.22H540.10" stroke="#5577ff" stroke-width="0.9" fill="none"/>
<path d="M401.30 240.16L412.70 239.87" stroke="#4a6cff" stroke-width="0.9" fill="none"/>
<path d="M416.90 239.76L446.22 239.02L457.53 237.06L468.84 226.30L480.15 197.35L491.46 124.87L502.77 103.78L514.08 99.54L525.39 99.02L536.70 100.57" stroke="#4a6cff" stroke-width="0.9" fill="none" stroke-linejoin="round"/>
<rect x="398.10" y="236.96" width="6.40" height="6.40" fill="#0030ff"/>
<rect x="443.02" y="235.82" width="6.40" height="6.40" fill="#0030ff"/>
<rect x="454.33" y="233.86" width="6.40" height="6.40" fill="#0030ff"/>
<rect x="465.64" y="223.10" width="6.40" height="6.40" fill="#0030ff"/>
<rect x="476.95" y="194.15" width="6.40" height="6.40" fill="#0030ff"/>
<rect x="488.26" y="121.67" width="6.40" height="6.40" fill="#0030ff"/>
<rect x="499.57" y="100.58" width="6.40" height="6.40" fill="#0030ff"/>
<rect x="510.88" y="96.34" width="6.40" height="6.40" fill="#0030ff"/>
<rect x="522.19" y="95.82" width="6.40" height="6.40" fill="#0030ff"/>
<rect x="533.50" y="97.37" width="6.40" height="6.40" fill="#0030ff"/>
<path d="M480.15 190.11V204.59M476.75 190.11H483.55M476.75 204.59H483.55" stroke="#44aa50" stroke-width="0.9" fill="none"/>
<path d="M491.46 115.05V133.66M488.06 115.05H494.86M488.06 133.66H494.86" stroke="#44aa50" stroke-width="0.9" fill="none"/>
<path d="M502.77 85.06V107.81M499.37 85.06H506.17M499.37 107.81H506.17" stroke="#44aa50" stroke-width="0.9" fill="none"/>
<path d="M514.08 80.61V107.50M510.68 80.61H517.48M510.68 107.50H517.48" stroke="#44aa50" stroke-width="0.9" fill="none"/>
<path d="M525.39 78.13V107.08M521.99 78.13H528.79M521.99 107.08H528.79" stroke="#44aa50" stroke-width="0.9" fill="none"/>
<path d="M536.70 75.24V106.26M533.30 75.24H540.10M533.30 106.26H540.10" stroke="#44aa50" stroke-width="0.9" fill="none"/>
<path d="M401.30 240.16L412.70 240.13" stroke="#33a040" stroke-width="0.9" fill="none"/>
<path d="M416.90 240.12L446.22 240.06L457.53 237.47L468.84 226.92L480.15 197.35L491.46 124.35L502.77 96.43L514.08 94.06L525.39 92.61L536.70 90.75" stroke="#33a040" stroke-width="0.9" fill="none" stroke-linejoin="round"/>
<path d="M401.30 236.86L404.60 240.16L401.30 243.46L398.00 240.16Z" fill="#008a10"/>
<path d="M446.22 236.76L449.52 240.06L446.22 243.36L442.92 240.06Z" fill="#008a10"/>
<path d="M457.53 234.17L460.83 237.47L457.53 240.77L454.23 237.47Z" fill="#008a10"/>
<path d="M468.84 223.62L472.14 226.92L468.84 230.22L465.54 226.92Z" fill="#008a10"/>
<path d="M480.15 194.05L483.45 197.35L480.15 200.65L476.85 197.35Z" fill="#008a10"/>
<path d="M491.46 121.05L494.76 124.35L491.46 127.65L488.16 124.35Z" fill="#008a10"/>
<path d="M502.77 93.13L506.07 96.43L502.77 99.73L499.47 96.43Z" fill="#008a10"/>
<path d="M514.08 90.76L517.38 94.06L514.08 97.36L510.78 94.06Z" fill="#008a10"/>
<path d="M525.39 89.31L528.69 92.61L525.39 95.91L522.09 92.61Z" fill="#008a10"/>
<path d="M536.70 87.45L540.00 90.75L536.70 94.05L533.40 90.75Z" fill="#008a10"/>
<line x1="411.20" y1="243.2" x2="413.80" y2="235.5" stroke="#444" stroke-width="1"/>
<line x1="415.50" y1="243.2" x2="418.50" y2="235.5" stroke="#444" stroke-width="1"/>
<text x="521.80" y="66.60" font-size="7.8" fill="#2fa040" stroke="#2fa040" stroke-width="0.12">TRAP</text>
<text x="525.30" y="73.50" font-size="7.8" fill="#3a5cf5" stroke="#3a5cf5" stroke-width="0.12">CBP</text>
<text x="522.70" y="143.90" font-size="7.8" fill="#ff4028" stroke="#ff4028" stroke-width="0.12">SRC1</text>
<text x="519.50" y="151.40" font-size="7.8" fill="#333333" stroke="#333333" stroke-width="0.12">PGC1<tspan font-size="7.6">α</tspan></text>
</svg>
</body></html>
